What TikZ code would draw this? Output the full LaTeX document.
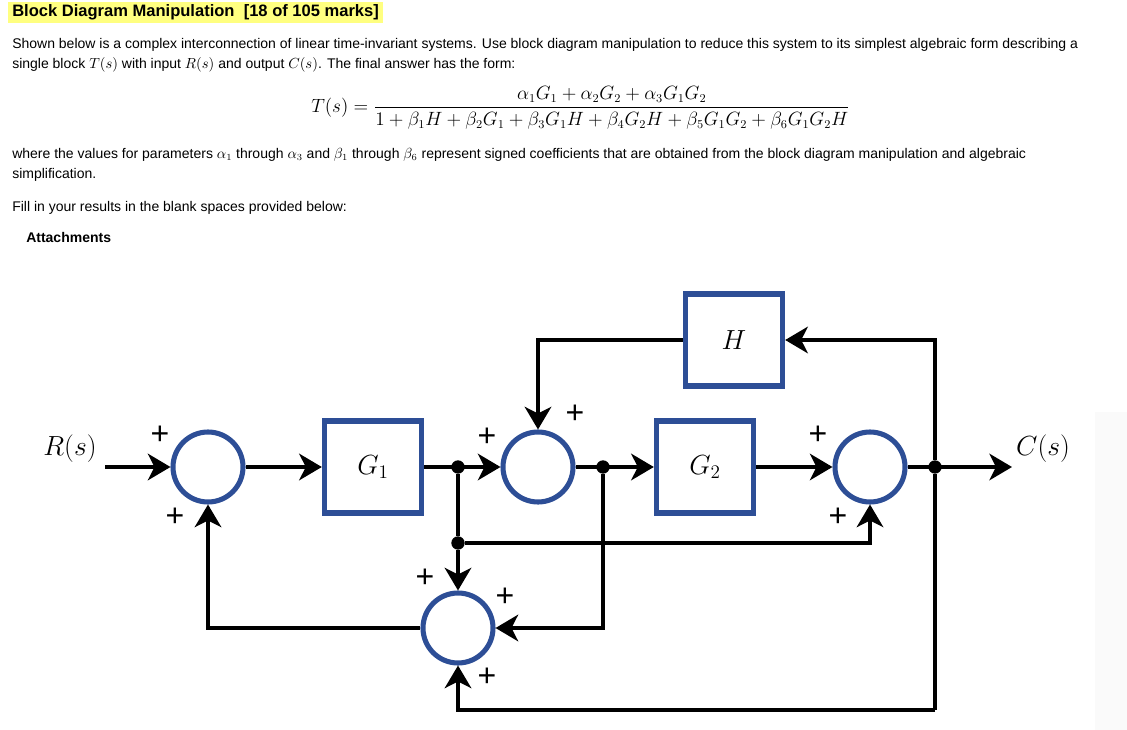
\documentclass[tikz,border=0pt]{standalone}
\usepackage{fontspec}
\setmainfont{Liberation Sans}
\usepackage{amsmath}
\usetikzlibrary{arrows.meta}
\definecolor{bblue}{RGB}{45,78,150}
\definecolor{hl}{RGB}{255,255,128}
\begin{document}
\begin{tikzpicture}[x=0.75pt,y=-0.75pt,
  sig/.style={line width=2.3pt,-{Stealth[length=17pt,width=20pt,inset=5pt]}},
  ln/.style={line width=2.3pt},
  sum/.style={circle,draw=bblue,line width=3.8pt,minimum size=52.5pt,inner sep=0},
  blk/.style={draw=bblue,line width=3.8pt,minimum width=73pt,minimum height=69pt,inner sep=0,font=\fontsize{20}{24}\selectfont},
  dot/.style={circle,fill=black,minimum size=10pt,inner sep=0},
  pl/.style={font=\fontsize{24}{24}\selectfont},
  lab/.style={font=\fontsize{20}{24}\selectfont},
  txt/.style={anchor=west,inner sep=0,font=\fontsize{10.5}{12}\selectfont}]
\useasboundingbox (0,0) rectangle (1127,730);
\fill[black!2] (1095,412) rectangle (1127,730);
% header
\fill[hl] (8,2) rectangle (383,23);
\node[anchor=west,inner sep=0,font=\bfseries\fontsize{12.4}{14}\selectfont] (title) at (12,12) {Block Diagram Manipulation\ \ [18 of 105 marks]};
\node[txt] (p1) at (12,45) {Shown below is a complex interconnection of linear time-invariant systems. Use block diagram manipulation to reduce this system to its simplest algebraic form describing a};
\node[txt] (p2) at (12,65) {single block $T(s)$ with input $R(s)$ and output $C(s)$. The final answer has the form:};
\node[anchor=west,inner sep=0,font=\fontsize{13.4}{16}\selectfont] (eq) at (311,108) {$T(s)=\dfrac{\alpha_1G_1+\alpha_2G_2+\alpha_3G_1G_2}{1+\beta_1H+\beta_2G_1+\beta_3G_1H+\beta_4G_2H+\beta_5G_1G_2+\beta_6G_1G_2H}$};
\node[txt] (p3) at (12,155) {where the values for parameters $\alpha_1$ through $\alpha_3$ and $\beta_1$ through $\beta_6$ represent signed coefficients that are obtained from the block diagram manipulation and algebraic};
\node[txt] (p4) at (12,175) {simplification.};
\node[txt] (p5) at (12,208) {Fill in your results in the blank spaces provided below:};
\node[txt,font=\bfseries\fontsize{10.5}{12}\selectfont] (att) at (26,237) {Attachments};
% diagram
\node[sum] (s1) at (208,467) {};
\node[sum] (s2) at (538,467) {};
\node[sum] (s3) at (870,467) {};
\node[sum] (s4) at (458,628) {};
\node[blk] (g1) at (373,467) {$G_1$};
\node[blk] (g2) at (705,467) {$G_2$};
\node[blk] (h) at (734,340) {$H$};
\node[lab] (r) at (70,449) {$R(s)$};
\node[lab] (c) at (1043,449) {$C(s)$};
\coordinate (rin) at (105,467);
\coordinate (cout) at (1012,467);
\node[dot] (d1) at (458,467) {};
\node[dot] (d2) at (603,467) {};
\node[dot] (d3) at (935,467) {};
\node[dot] (d4) at (458,543) {};
\draw[sig] (rin) -- (s1);
\draw[sig] (s1) -- (g1);
\draw[sig] (g1) -- (s2);
\draw[sig] (s2) -- (g2);
\draw[sig] (g2) -- (s3);
\draw[sig] (s3) -- (cout);
\draw[sig] (d3) |- (h);
\draw[sig] (h) -| (s2);
\draw[ln] (d1) -- (d4);
\draw[sig] (d4) -- (s4);
\draw[sig] (d4) -| (s3);
\draw[sig] (d2) |- (s4);
\draw[sig] (s4) -| (s1);
\coordinate (bb) at (935,710);
\draw[ln] (d3) -- (bb);
\draw[sig] (bb) -| (s4);
% signs
\node[pl] at (160,435) {+};
\node[pl] at (175,517) {+};
\node[pl] at (487,437) {+};
\node[pl] at (575,414) {+};
\node[pl] at (818,435) {+};
\node[pl] at (838,517) {+};
\node[pl] at (425,578) {+};
\node[pl] at (505,597) {+};
\node[pl] at (487,677) {+};
\end{tikzpicture}
\end{document}
